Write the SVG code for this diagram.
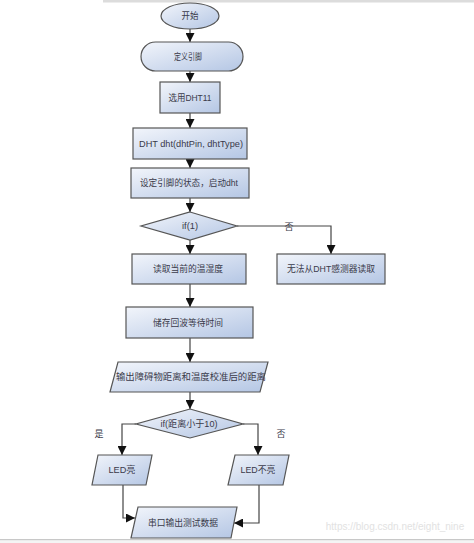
<svg xmlns="http://www.w3.org/2000/svg" width="474" height="543" viewBox="0 0 474 543">
<defs>
<linearGradient id="g" x1="0" y1="0" x2="1" y2="1">
<stop offset="0" stop-color="#f2f5fb"/>
<stop offset="1" stop-color="#b4c6e4"/>
</linearGradient>
<marker id="ah" viewBox="0 0 10 10" refX="10" refY="5" markerWidth="9" markerHeight="9" markerUnits="userSpaceOnUse" orient="auto">
<path d="M0,0 L10,5 L0,10 z" fill="#111"/>
</marker>
<style>
.n{fill:url(#g);stroke:#555;stroke-width:1.2}
.t{font-family:"Liberation Sans","Noto Sans CJK SC",sans-serif;font-size:9px;fill:#3a3a4a;text-anchor:middle;dominant-baseline:central}
.c{fill:none;stroke:#444;stroke-width:1.2;marker-end:url(#ah)}
</style>
</defs>
<rect x="0" y="0" width="474" height="543" fill="#fff"/>
<rect x="103" y="0" width="371" height="2.5" fill="#dcdcdc"/>
<rect x="0" y="539" width="474" height="1.5" fill="#c8c8c8"/>
<rect x="0" y="540.5" width="474" height="2.5" fill="#f4f4f4"/>
<text x="395" y="530" font-family="Liberation Sans,sans-serif" font-size="10" fill="#e2e2e2" text-anchor="middle">https://blog.csdn.net/eight_nine</text>
<g id="connectors">
<path class="c" d="M190,29 V42"/>
<path class="c" d="M190,71 V82"/>
<path class="c" d="M190,113 V128"/>
<path class="c" d="M190,159 V168"/>
<path class="c" d="M190,198 V212"/>
<path class="c" d="M190,240 V254"/>
<path class="c" d="M237,226 H331 V254"/>
<path class="c" d="M190,284 V307"/>
<path class="c" d="M190,338 V362"/>
<path class="c" d="M190,392 V409"/>
<path class="c" d="M136,424 H122 V455"/>
<path class="c" d="M243,424 H258 V455"/>
<path class="c" d="M123,485 V518 H135"/>
<path class="c" d="M259,485 V523 H234"/>
<text class="t" x="289" y="227">否</text>
<text class="t" x="99" y="434">是</text>
<text class="t" x="281" y="434">否</text>
</g>
<g id="start"><ellipse class="n" cx="190" cy="16" rx="29" ry="13"/><text class="t" x="190" y="16" textLength="17" lengthAdjust="spacingAndGlyphs">开始</text></g>
<g id="definePins"><rect class="n" x="141" y="42" width="102" height="29" rx="14.5"/><text class="t" x="188" y="57" textLength="28" lengthAdjust="spacingAndGlyphs">定义引脚</text></g>
<g id="selectDHT"><rect class="n" x="160" y="82" width="60" height="31"/><text class="t" x="190" y="98" textLength="43" lengthAdjust="spacingAndGlyphs">选用DHT11</text></g>
<g id="dhtObj"><rect class="n" x="133" y="128" width="114" height="31"/><text class="t" x="191" y="144" textLength="104" lengthAdjust="spacingAndGlyphs">DHT dht(dhtPin, dhtType)</text></g>
<g id="setPins"><rect class="n" x="131" y="168" width="118" height="30"/><text class="t" x="189" y="183" textLength="98" lengthAdjust="spacingAndGlyphs">设定引脚的状态，启动dht</text></g>
<g id="if1"><polygon class="n" points="190,212 237,226 190,240 141,226"/><text class="t" x="190" y="226" textLength="16" lengthAdjust="spacingAndGlyphs">if(1)</text></g>
<g id="readTemp"><rect class="n" x="132" y="254" width="114" height="30"/><text class="t" x="188" y="269" textLength="70" lengthAdjust="spacingAndGlyphs">读取当前的温湿度</text></g>
<g id="cannotRead"><rect class="n" x="277" y="254" width="108" height="30"/><text class="t" x="331" y="269" textLength="88" lengthAdjust="spacingAndGlyphs">无法从DHT感测器读取</text></g>
<g id="storeEcho"><rect class="n" x="126" y="307" width="127" height="31"/><text class="t" x="188" y="323" textLength="70" lengthAdjust="spacingAndGlyphs">储存回波等待时间</text></g>
<g id="outputDist"><polygon class="n" points="118,362 268,362 260,392 110,392"/><text class="t" x="191" y="377" textLength="150" lengthAdjust="spacingAndGlyphs">输出障碍物距离和温度校准后的距离</text></g>
<g id="ifDist"><polygon class="n" points="190,409 243,424 190,438 136,424"/><text class="t" x="189" y="424" textLength="57" lengthAdjust="spacingAndGlyphs">if(距离小于10)</text></g>
<g id="ledOn"><polygon class="n" points="98,455 152,455 146,485 92,485"/><text class="t" x="122" y="470" textLength="27" lengthAdjust="spacingAndGlyphs">LED亮</text></g>
<g id="ledOff"><polygon class="n" points="235,455 289,455 283,485 228,485"/><text class="t" x="258" y="470" textLength="35" lengthAdjust="spacingAndGlyphs">LED不亮</text></g>
<g id="serialOut"><polygon class="n" points="138,507 237,507 231,538 131,538"/><text class="t" x="183" y="523" textLength="70" lengthAdjust="spacingAndGlyphs">串口输出测试数据</text></g>
</svg>
